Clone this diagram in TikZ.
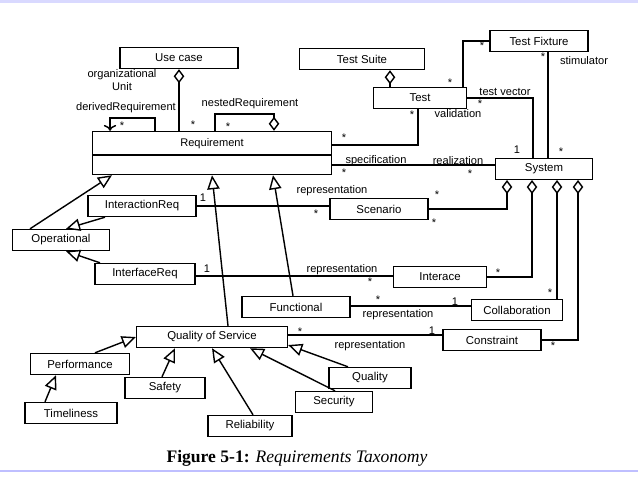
\documentclass[tikz,border=0pt]{standalone}
\usepackage{fontspec}
\setmainfont{Liberation Serif}
\newfontfamily\lab{Liberation Sans}
\usetikzlibrary{arrows.meta}
\tikzset{
  box/.style={draw, thick, fill=white, minimum height=0.42cm, inner sep=1pt, font=\lab\fontsize{6.5}{7}\selectfont},
  lbl/.style={font=\lab\fontsize{6.3}{7}\selectfont, inner sep=0pt},
  gen/.style={thick, -{Triangle[open,length=8pt,width=7pt]}},
  agg/.style={thick, {Diamond[open,length=8pt,width=6pt]}-},
  asc/.style={thick}
}
\begin{document}
\begin{tikzpicture}[x=0.02cm, y=-0.02cm]
    \useasboundingbox (0,0) rectangle (638,478);
    \draw[blue!15, line width=2pt] (0,1) -- (638,1);
    \draw[blue!25, line width=1pt] (0,471) -- (638,471);
    % Clases
    \node[box, minimum width=2.36cm] (usecase) at (179,58) {Use case};
    \node[box, minimum width=2.5cm] (suite) at (362,59) {Test Suite};
    \node[box, minimum width=1.96cm] (fixture) at (539,41) {Test Fixture};
    \node[box, minimum width=1.86cm] (test) at (420,98) {Test};
    \node[box, minimum width=4.78cm, minimum height=0.86cm] (req) at (212,153) {};
    \node[lbl] at (212,144) {Requirement};
    \draw[thick] (req.west |- 0,155) -- (req.east |- 0,155);
    \node[box, minimum width=1.94cm] (system) at (544,169) {System};
    \node[box, minimum width=2.16cm] (interaction) at (142,206) {InteractionReq};
    \node[box, minimum width=1.96cm] (scenario) at (379,209) {Scenario};
    \node[box, minimum width=1.94cm] (operational) at (61,240) {Operational};
    \node[box, minimum width=2cm] (interface) at (145,274) {InterfaceReq};
    \node[box, minimum width=1.86cm] (interace) at (440,277) {Interace};
    \node[box, minimum width=2.16cm] (functional) at (296,307) {Functional};
    \node[box, minimum width=1.82cm] (collab) at (517,310) {Collaboration};
    \node[box, minimum width=3.02cm] (qos) at (212,337) {Quality of Service};
    \node[box, minimum width=1.96cm] (constraint) at (492,340) {Constraint};
    \node[box, minimum width=1.98cm] (perf) at (80,364) {Performance};
    \node[box, minimum width=1.6cm] (safety) at (165,388) {Safety};
    \node[box, minimum width=1.64cm] (quality) at (370,378) {Quality};
    \node[box, minimum width=1.54cm] (security) at (334,402) {Security};
    \node[box, minimum width=1.84cm] (timeliness) at (71,413) {Timeliness};
    \node[box, minimum width=1.68cm] (reliability) at (250,426) {Reliability};

    % Puntos de anclaje
    \coordinate (s1) at (507,180);
    \coordinate (s2) at (532,180);
    \coordinate (s3) at (557,180);
    \coordinate (s4) at (578,180);

    % Asociaciones
    \draw[agg] (usecase.south) -- (req.north -| usecase.south);
    \draw[asc, ->] (req.north -| 155,0) |- (110,118) -- (req.north -| 110,0);
    \draw[agg] (req.north -| 274,0) |- (215,114) -- (req.north -| 215,0);
    \draw[agg] (suite.south -| 390,0) -- (test.north -| 390,0);
    \draw[asc] (test.south -| 418,0) |- (req.east |- 0,145);
    \draw[asc] (fixture.west) -| (test.north -| 463,0);
    \draw[asc] (test.east) -| (system.north -| 533,0);
    \draw[asc] (fixture.south -| 548,0) -- (system.north -| 548,0);
    \draw[asc] (req.east |- 0,165) -- (system.west |- 0,165);
    \draw[asc] (interaction.east) -- (scenario.west |- interaction.east);
    \draw[agg] (s1) |- (scenario.east);
    \draw[asc] (interface.east |- 0,276) -- (interace.west |- 0,276);
    \draw[agg] (s2) |- (interace.east);
    \draw[asc] (functional.east |- 0,306) -- (collab.west |- 0,306);
    \draw[agg] (s3) -- (collab.north -| s3);
    \draw[asc] (qos.east |- 0,335) -- (constraint.west |- 0,335);
    \draw[agg] (s4) |- (constraint.east);

    % Generalizaciones
    \draw[gen] (operational.north -| 30,0) -- (req.south -| 112,0);
    \draw[gen] (interaction.south -| 105,0) -- (operational.north -| 66,0);
    \draw[gen] (interface.north -| 100,0) -- (operational.south -| 66,0);
    \draw[gen] (qos.north -| 228,0) -- (req.south -| 212,0);
    \draw[gen] (functional.north -| 293,0) -- (req.south -| 273,0);
    \draw[gen] (perf.north -| 95,0) -- (qos.west |- 0,337);
    \draw[gen] (timeliness.north -| 45,0) -- (perf.south -| 56,0);
    \draw[gen] (safety.north -| 162,0) -- (qos.south -| 175,0);
    \draw[gen] (reliability.north -| 253,0) -- (qos.south -| 212,0);
    \draw[gen] (security.north -| 335,0) -- (qos.south -| 250,0);
    \draw[gen] (quality.north -| 348,0) -- (qos.east |- 0,345);

    % Etiquetas
    \node[lbl, align=center] at (122,80) {organizational\\Unit};
    \node[lbl] at (126,108) {derivedRequirement};
    \node[lbl] at (250,104) {nestedRequirement};
    \node[lbl] at (122,126) {*};
    \node[lbl] at (193,125) {*};
    \node[lbl] at (228,127) {*};
    \node[lbl] at (344,138) {*};
    \node[lbl] at (412,115) {*};
    \node[lbl] at (458,114) {validation};
    \node[lbl] at (482,46) {*};
    \node[lbl] at (450,83) {*};
    \node[lbl] at (505,92) {test vector};
    \node[lbl] at (480,104) {*};
    \node[lbl] at (517,150) {1};
    \node[lbl] at (584,61) {stimulator};
    \node[lbl] at (543,57) {*};
    \node[lbl] at (561,152) {*};
    \node[lbl] at (376,161) {specification};
    \node[lbl] at (458,161) {realization};
    \node[lbl] at (344,173) {*};
    \node[lbl] at (470,174) {*};
    \node[lbl] at (203,198) {1};
    \node[lbl] at (332,191) {representation};
    \node[lbl] at (316,214) {*};
    \node[lbl] at (437,195) {*};
    \node[lbl] at (434,223) {*};
    \node[lbl] at (207,269) {1};
    \node[lbl] at (342,270) {representation};
    \node[lbl] at (370,282) {*};
    \node[lbl] at (498,273) {*};
    \node[lbl] at (378,300) {*};
    \node[lbl] at (455,302) {1};
    \node[lbl] at (398,315) {representation};
    \node[lbl] at (550,293) {*};
    \node[lbl] at (300,332) {*};
    \node[lbl] at (432,331) {1};
    \node[lbl] at (370,346) {representation};
    \node[lbl] at (553,346) {*};
    \node[inner sep=0pt, font=\fontsize{10}{12}\selectfont] at (297,458) {\textbf{Figure 5-1:} \textit{Requirements Taxonomy}};
\end{tikzpicture}
\end{document}
